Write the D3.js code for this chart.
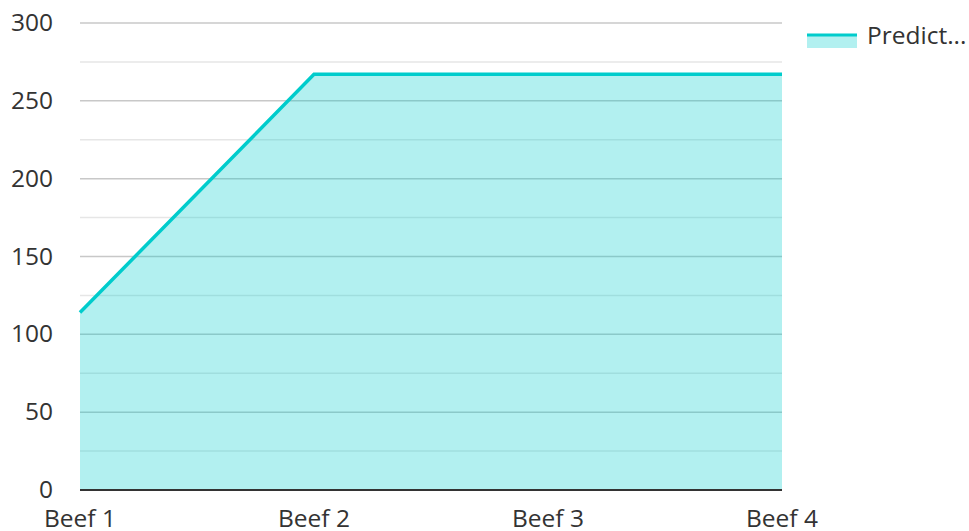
<!DOCTYPE html>
<html lang="en">
<head>
  <meta charset="UTF-8">
  <title>Beef chart</title>
  <script src="https://d3js.org/d3.v7.min.js"></script>
  <style>
    body { margin: 0; font-family: "Open Sans", sans-serif; background: #fff; }
    text { fill: #333; }
  </style>
</head>
<body>
  <svg id="chart" width="969" height="531"></svg>
  <script>
    // chart data
    const categories = ["Beef 1", "Beef 2", "Beef 3", "Beef 4"];
    const predicted = [114, 267, 267, 267];
    const yTicks = [0, 50, 100, 150, 200, 250, 300];
    const minorTicks = [25, 75, 125, 175, 225, 275];
    const seriesName = "Predict...";

    const svg = d3.select("#chart");
    const plotLeft = 80, plotRight = 782, plotTop = 23, plotBottom = 490;
    const teal = "#00cccc";

    const x = d3.scalePoint().domain(categories).range([plotLeft, plotRight]);
    const y = d3.scaleLinear().domain([0, 300]).range([plotBottom, plotTop]);

    // gridlines
    svg.append("g").selectAll("line").data(minorTicks).enter().append("line")
      .attr("x1", plotLeft).attr("x2", plotRight)
      .attr("y1", d => y(d)).attr("y2", d => y(d))
      .attr("stroke", "#e6e6e6").attr("stroke-width", 1.5);
    svg.append("g").selectAll("line").data(yTicks.filter(d => d > 0)).enter().append("line")
      .attr("x1", plotLeft).attr("x2", plotRight)
      .attr("y1", d => y(d)).attr("y2", d => y(d))
      .attr("stroke", "#c8c8c8").attr("stroke-width", 1.5);

    // area + line
    const pts = categories.map((c, i) => [x(c), y(predicted[i])]);
    svg.append("path")
      .attr("d", d3.area().x(d => d[0]).y0(y(0)).y1(d => d[1])(pts))
      .attr("fill", teal).attr("fill-opacity", 0.3);
    svg.append("path")
      .attr("d", d3.line()(pts))
      .attr("fill", "none").attr("stroke", teal).attr("stroke-width", 3.5);

    // baseline
    svg.append("line")
      .attr("x1", plotLeft).attr("x2", plotRight)
      .attr("y1", y(0)).attr("y2", y(0))
      .attr("stroke", "#333").attr("stroke-width", 2);

    // y labels
    svg.append("g").selectAll("text").data(yTicks).enter().append("text")
      .attr("x", 53).attr("y", d => y(d) + 8)
      .attr("text-anchor", "end")
      .style("font-size", "24.5px")
      .text(d => d);

    // x labels
    svg.append("g").selectAll("text").data(categories).enter().append("text")
      .attr("x", d => x(d)).attr("y", 527)
      .attr("text-anchor", "middle")
      .style("font-size", "24.5px")
      .text(d => d);

    // legend
    const lg = svg.append("g");
    lg.append("rect").attr("x", 807).attr("y", 34).attr("width", 50).attr("height", 14)
      .attr("fill", teal).attr("fill-opacity", 0.3);
    lg.append("line").attr("x1", 807).attr("x2", 857).attr("y1", 35).attr("y2", 35)
      .attr("stroke", teal).attr("stroke-width", 3);
    lg.append("text").attr("x", 867).attr("y", 44)
      .style("font-size", "24.5px")
      .text(seriesName);
  </script>
</body>
</html>
